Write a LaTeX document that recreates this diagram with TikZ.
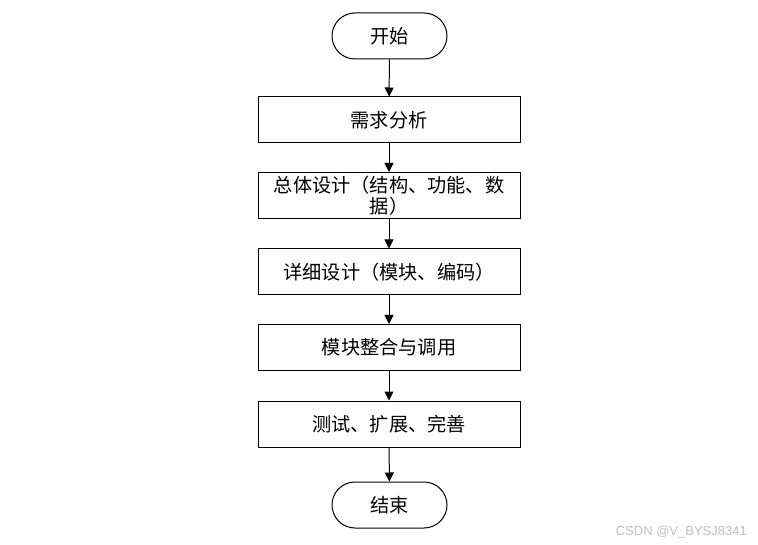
\documentclass[tikz,border=0pt]{standalone}
\usepackage{fontspec}
\newfontfamily\cjk{Noto Sans CJK SC}
\setsansfont{Liberation Sans}
\usetikzlibrary{arrows.meta}
\begin{document}
\begin{tikzpicture}[x=1pt,y=-1pt,
  base/.style={draw=black,line width=1pt,minimum height=46pt,inner sep=0pt,
    font=\cjk\fontsize{19.2}{20.5}\selectfont,align=center},
  procbox/.style={base,minimum width=262pt},
  termbox/.style={base,minimum width=115pt,rounded corners=23pt},
  flow/.style={draw=black,line width=1pt,-{Triangle[width=9pt,length=9pt]}}]
\useasboundingbox (0,0) rectangle (758,545);
\node[termbox] (start) at (389.5,36) {开始};
\node[procbox] (s1) at (389,120) {需求分析};
\node[procbox] (s2) at (389,195.5) {总体设计（结构、功能、数\\据）};
\node[procbox] (s3) at (389,272) {详细设计（模块、编码）};
\node[procbox] (s4) at (389,347.5) {模块整合与调用};
\node[procbox] (s5) at (389,424) {测试、扩展、完善};
\node[termbox] (end) at (389.5,505) {结束};
\draw[flow] (start) -- (s1);
\draw[flow] (s1) -- (s2);
\draw[flow] (s2) -- (s3);
\draw[flow] (s3) -- (s4);
\draw[flow] (s4) -- (s5);
\draw[flow] (s5) -- (end);
\node[text=black!25,font=\sffamily\fontsize{13}{15}\selectfont,anchor=east,inner sep=0pt] (wm) at (747,532) {CSDN @V\_BYSJ8341};
\end{tikzpicture}
\end{document}
